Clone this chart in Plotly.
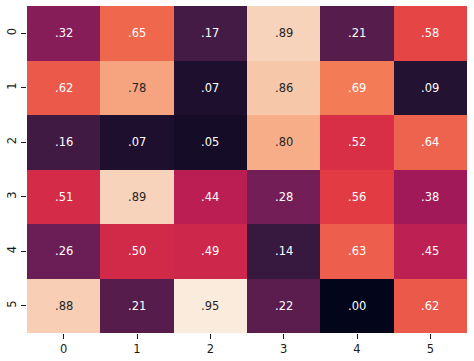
import plotly.graph_objects as go

rows = ["0", "1", "2", "3", "4", "5"]
cols = ["0", "1", "2", "3", "4", "5"]
values = [
    [0.32, 0.65, 0.17, 0.89, 0.21, 0.58],
    [0.62, 0.78, 0.07, 0.86, 0.69, 0.09],
    [0.16, 0.07, 0.05, 0.80, 0.52, 0.64],
    [0.51, 0.89, 0.44, 0.28, 0.56, 0.38],
    [0.26, 0.50, 0.49, 0.14, 0.63, 0.45],
    [0.88, 0.21, 0.95, 0.22, 0.00, 0.62],
]

rocket = [
    [0.0, "#03051a"],
    [1 / 7, "#35193e"],
    [2 / 7, "#701f57"],
    [3 / 7, "#ad1759"],
    [4 / 7, "#e13342"],
    [5 / 7, "#f37651"],
    [6 / 7, "#f6b48f"],
    [1.0, "#faebdd"],
]

vmin = min(min(r) for r in values)
vmax = max(max(r) for r in values)

fig = go.Figure(
    go.Heatmap(
        z=values,
        x=list(range(len(cols))),
        y=list(range(len(rows))),
        colorscale=rocket,
        zmin=vmin,
        zmax=vmax,
        showscale=False,
        hoverinfo="skip",
    )
)

annotations = []
for i, row in enumerate(values):
    for j, v in enumerate(row):
        norm = (v - vmin) / (vmax - vmin)
        color = "#262626" if norm > 0.78 else "white"
        annotations.append(
            dict(
                x=j,
                y=i,
                xref="x",
                yref="y",
                text=f"{v:.2f}".lstrip("0"),
                showarrow=False,
                font=dict(family="DejaVu Sans", size=11.5, color=color),
            )
        )

fig.update_layout(
    width=474,
    height=361,
    margin=dict(l=27, r=7, t=6, b=28, autoexpand=False),
    paper_bgcolor="white",
    plot_bgcolor="white",
    annotations=annotations,
    font=dict(family="DejaVu Sans", size=11.5, color="#1a1a1a"),
)
fig.update_xaxes(
    tickmode="array",
    tickvals=list(range(len(cols))),
    ticktext=cols,
    ticks="outside",
    ticklen=5,
    tickwidth=1,
    tickcolor="#1a1a1a",
    showgrid=False,
    zeroline=False,
    showline=False,
    automargin=False,
    range=[-0.5, len(cols) - 0.5],
)
fig.update_yaxes(
    tickmode="array",
    tickvals=list(range(len(rows))),
    ticktext=rows,
    ticks="outside",
    ticklen=5,
    tickwidth=1,
    tickcolor="#1a1a1a",
    tickangle=-90,
    showgrid=False,
    zeroline=False,
    showline=False,
    automargin=False,
    range=[len(rows) - 0.5, -0.5],
)

fig.write_html(
    "out.html",
    config={"displayModeBar": False},
    post_script="document.body.style.margin='0';document.body.style.padding='0';",
)
